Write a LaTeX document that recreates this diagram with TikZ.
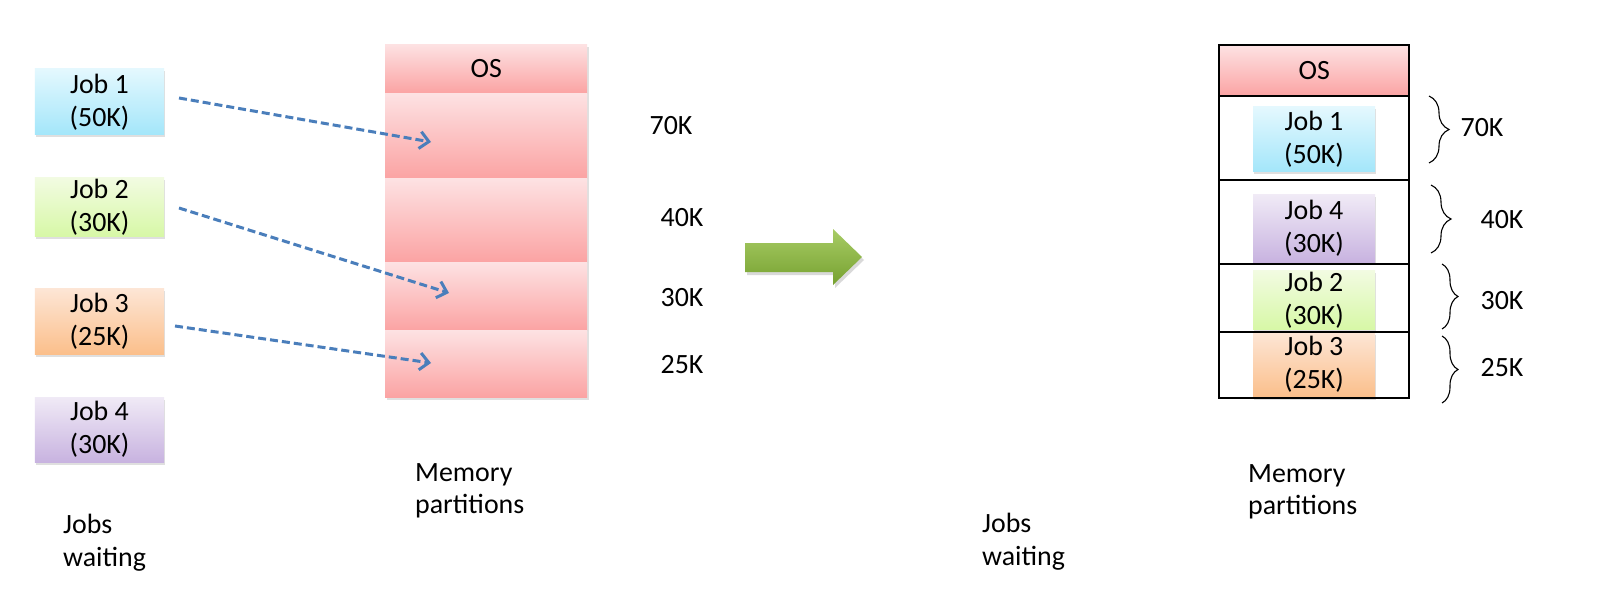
\documentclass[tikz,border=0pt]{standalone}
\usepackage{fontspec}
\setmainfont{Carlito}
\usetikzlibrary{arrows.meta,decorations.pathreplacing,shadows}
\definecolor{cat}{HTML}{E4F8FE}\definecolor{cab}{HTML}{A3E6FA}
\definecolor{cbt}{HTML}{F2FBE2}\definecolor{cbb}{HTML}{D7F8A6}
\definecolor{cct}{HTML}{FDE6D6}\definecolor{ccb}{HTML}{FBBF8B}
\definecolor{cdt}{HTML}{F0EAF6}\definecolor{cdb}{HTML}{C8B3E0}
\definecolor{pkt}{HTML}{FDE2E3}\definecolor{pkb}{HTML}{FBA3A3}
\definecolor{dblue}{HTML}{4A7EBB}
\definecolor{grt}{HTML}{A8CC66}\definecolor{grb}{HTML}{76A12F}
\newcommand{\txtfont}{\fontsize{28}{33}\selectfont}
\tikzset{
  jobbox/.style={inner sep=0pt, align=center, font=\txtfont,
    drop shadow={shadow xshift=1bp, shadow yshift=-2.5bp, opacity=0.25}},
  jobleft/.style={jobbox, minimum width=129bp},
  jobright/.style={jobbox, minimum width=122bp},
  jA/.style={top color=cat, bottom color=cab},
  jB/.style={top color=cbt, bottom color=cbb},
  jC/.style={top color=cct, bottom color=ccb},
  jD/.style={top color=cdt, bottom color=cdb},
  partseg/.style={anchor=north west, inner sep=0pt, minimum width=202bp,
    top color=pkt, bottom color=pkb, font=\txtfont},
  sizelabel/.style={font=\txtfont, inner sep=0pt},
  caption/.style={font=\txtfont, align=left, anchor=north west, inner sep=0pt},
  dasharrow/.style={draw=dblue, line width=3bp, dash pattern=on 8bp off 4bp,
    -{Straight Barb[length=9bp,width=17bp]}},
  bracestyle/.style={draw=black, line width=1.1bp, decorate,
    decoration={brace, amplitude=#1}},
  frameline/.style={draw=black, line width=1.5bp}
}
\begin{document}
\begin{tikzpicture}[x=1bp,y=-1bp]
\useasboundingbox (0,0) rectangle (1600,591);
\fill[white] (0,0) rectangle (1600,591);

% ---- left: waiting jobs
\node[jobleft, jA, minimum height=66bp] (j1) at (99.5,102) {Job 1\\(50K)};
\node[jobleft, jB, minimum height=59bp] (j2) at (99.5,207) {Job 2\\(30K)};
\node[jobleft, jC, minimum height=66bp] (j3) at (99.5,321) {Job 3\\(25K)};
\node[jobleft, jD, minimum height=65bp] (j4) at (99.5,429.5) {Job 4\\(30K)};

% ---- left: memory partitions
\fill[black, opacity=0.12] (387,47) rectangle (589,400);
\node[partseg, minimum height=49bp] (os) at (385,44) {OS};
\node[partseg, minimum height=85bp] (p1) at (385,93) {};
\node[partseg, minimum height=84bp] (p2) at (385,178) {};
\node[partseg, minimum height=68bp] (p3) at (385,262) {};
\node[partseg, minimum height=67bp] (p4) at (385,330) {};

\node[sizelabel] (s1) at (671,126) {70K};
\node[sizelabel] (s2) at (682,218) {40K};
\node[sizelabel] (s3) at (682,298) {30K};
\node[sizelabel] (s4) at (682,365) {25K};

% ---- dashed arrows
\coordinate (a1s) at (179,98);  \coordinate (a1e) at (431,142);
\coordinate (a2s) at (179,208); \coordinate (a2e) at (449,293);
\coordinate (a3s) at (175,326); \coordinate (a3e) at (431,363);
\draw[dasharrow] (a1s) -- (a1e);
\draw[dasharrow] (a2s) -- (a2e);
\draw[dasharrow] (a3s) -- (a3e);

\node[caption] (memL) at (415,463) {Memory\\partitions};
\node[caption] (waitL) at (63,514) {Jobs\\waiting};

% ---- green arrow
\fill[black, opacity=0.15] (747,246) -- (835,246) -- (835,232) -- (864,260) -- (835,288) -- (835,275) -- (747,275) -- cycle;
\shade[top color=grt, bottom color=grb] (745,243) -- (833,243) -- (833,229) -- (862,257) -- (833,285) -- (833,272) -- (745,272) -- cycle;

% ---- right: memory after allocation
\node[caption] (waitR) at (982,513) {Jobs\\waiting};

\node[anchor=north west, inner sep=0pt, minimum width=190bp, minimum height=51bp,
      top color=pkt, bottom color=pkb, font=\txtfont] (osR) at (1219,45) {OS};

\node[jobright, jA, minimum height=65bp] (r1) at (1314,139.5) {Job 1\\(50K)};
\node[jobright, jD, minimum height=67bp] (r4) at (1314,228.5) {Job 4\\(30K)};
\node[jobright, jB, minimum height=59bp] (r2) at (1314,300) {Job 2\\(30K)};
\node[jobright, jC, minimum height=65bp] (r3) at (1314,364.5) {Job 3\\(25K)};

\draw[frameline] (1219,45) rectangle (1409,398);
\draw[frameline] (1219,96) -- (1409,96);
\draw[frameline] (1219,180) -- (1409,180);
\draw[frameline] (1219,264) -- (1409,264);
\draw[frameline] (1219,332) -- (1409,332);

\draw[bracestyle=20bp] (1429,96) -- (1429,163);
\draw[bracestyle=20bp] (1431,185) -- (1431,253);
\draw[bracestyle=16bp] (1442,264) -- (1442,329);
\draw[bracestyle=16bp] (1442,336) -- (1442,403);

\node[sizelabel] (t1) at (1482,128) {70K};
\node[sizelabel] (t2) at (1502,220) {40K};
\node[sizelabel] (t3) at (1502,301) {30K};
\node[sizelabel] (t4) at (1502,368) {25K};

\node[caption] (memR) at (1248,464) {Memory\\partitions};
\end{tikzpicture}
\end{document}
